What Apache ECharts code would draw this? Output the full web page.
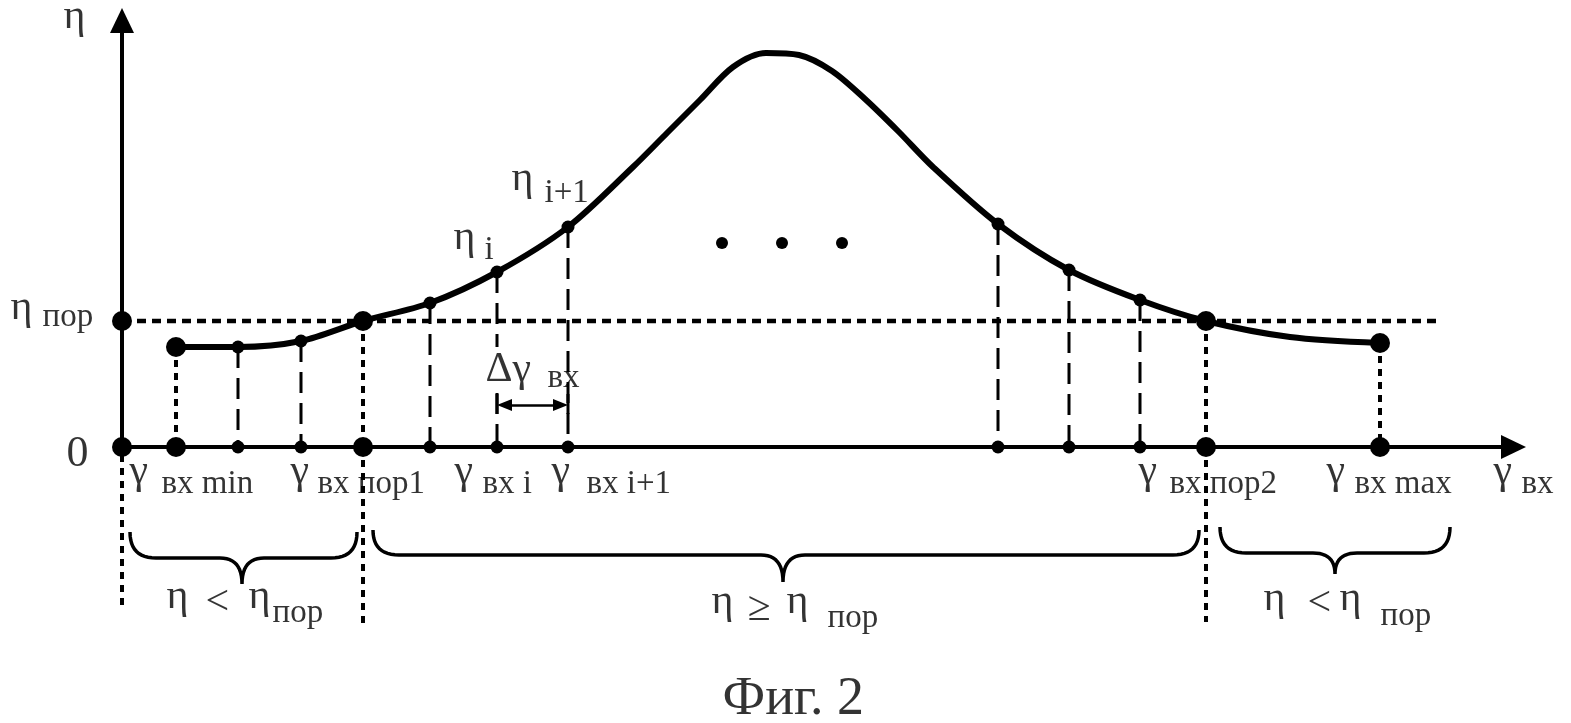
<!DOCTYPE html>
<html><head><meta charset="utf-8">
<script src="https://cdn.jsdelivr.net/npm/echarts@6/dist/echarts.min.js"></script>
<style>html,body{margin:0;padding:0;background:#fff}#c{width:1571px;height:723px}</style>
</head><body><div id="c"></div>
<script>
// ---- data (chart units: γвх along x, η along y) ----
const sampleGamma = [5.4, 11.6, 17.9, 24.1, 30.8, 37.5, 44.6, 87.6, 94.7, 101.8, 108.4, 125.8];
const sampleEta   = [10.0, 10.0, 10.6, 12.6, 14.4, 17.5, 22.0, 22.3, 17.7, 14.7, 12.6, 10.4];
const sampleKind  = ['big','small','small','big','small','small','small','small','small','small','big','big'];
const curveGamma  = [5.4, 11.6, 17.9, 24.1, 30.8, 37.5, 44.6, 51.1, 54.5, 57.8, 61.1, 64.4, 67.7, 71.0, 74.3, 77.6, 81.1, 87.6, 94.7, 101.8, 108.4, 116.8, 125.8];
const curveEta    = [10.0, 10.0, 10.6, 12.6, 14.4, 17.5, 22.0, 28.0, 31.4, 34.7, 38.0, 39.4, 39.2, 37.6, 34.8, 31.6, 28.0, 22.3, 17.7, 14.7, 12.6, 11.0, 10.4];
const etaThreshold = 12.6;
const thresholdEnd = 131.5;
const ellipsisGamma = [60.0, 66.0, 72.0];
const ellipsisEta = 20.4;
const deltaFrom = 37.5, deltaTo = 44.6, deltaEta = 4.2;
// gap in the drop line at γ = deltaFrom, left for the Δγ label: [η top, η bottom]
const deltaLabelGap = [10.0, 5.4];
// region boundaries below the axis: [γ, η bottom]
const boundaries = [[0, -16.3], [24.1, -18.0], [108.4, -17.5]];
// braces: [γ start, γ end, γ tip, η top, η mid, η bottom]
const braces = [
  [0.8, 23.5, 12.0, -8.5, -11.1, -13.7],
  [25.1, 107.7, 66.1, -8.3, -10.8, -13.5],
  [109.8, 132.8, 121.3, -8.0, -10.6, -12.7]
];
// texts: [text, γ, η]
const symbolTexts = [
  ['η', -5.8, 43.0], ['η', -11.1, 13.9],
  ['γ', 0.8, -2.5], ['γ', 16.9, -2.5], ['γ', 33.3, -2.5], ['γ', 43.0, -2.5],
  ['γ', 101.7, -2.5], ['γ', 120.5, -2.5], ['γ', 137.2, -2.5],
  ['η', 33.2, 20.9], ['η', 39.0, 26.8], ['Δγ', 36.4, 7.7],
  ['η', 4.5, -15.0], ['<', 8.4, -15.6], ['η', 12.7, -15.0],
  ['η', 59.0, -15.5], ['≥', 62.6, -16.2], ['η', 66.5, -15.5],
  ['η', 114.2, -15.2], ['<', 118.6, -15.7], ['η', 121.8, -15.2]
];
const subTexts = [
  ['пор', -7.9, 12.9],
  ['вх min', 4.0, -3.8], ['вх пор1', 19.6, -3.8], ['вх i', 36.1, -3.8], ['вх i+1', 46.5, -3.8],
  ['вх пор2', 104.8, -3.8], ['вх max', 123.3, -3.8], ['вх', 140.0, -3.8],
  ['i', 36.3, 19.6], ['i+1', 42.3, 25.3], ['вх', 42.6, 6.8],
  ['пор', 15.1, -16.7], ['пор', 70.6, -17.2], ['пор', 125.9, -17.0]
];
const zeroText = [['0', -5.5, -0.75]];
const figText = [['Фиг. 2', 60.1, -25.3]];

// ---- build ----
const FONT = '"Liberation Serif","Times New Roman",serif';
const bigPts = [], smallPts = [], axisBig = [[0, 0], [0, etaThreshold]], axisSmall = [];
sampleGamma.forEach((g, i) => {
  if (sampleKind[i] === 'big') { bigPts.push([g, sampleEta[i]]); axisBig.push([g, 0]); }
  else { smallPts.push([g, sampleEta[i]]); axisSmall.push([g, 0]); }
});
// guide segments: [x1,y1,x2,y2,kind] kind 0 = long dash, 1 = dotted, 2 = threshold dotted, 3 = solid tick
const guides = [];
sampleGamma.forEach((g, i) => {
  const kind = sampleKind[i] === 'big' ? 1 : 0;
  if (g === deltaFrom) {
    guides.push([g, sampleEta[i], g, deltaLabelGap[0], kind]);
    guides.push([g, deltaLabelGap[1], g, 0, kind]);
  } else {
    guides.push([g, sampleEta[i], g, 0, kind]);
  }
});
boundaries.forEach(b => {
  const idx = sampleGamma.indexOf(b[0]);
  const top = idx >= 0 ? 0 : -0.8;
  guides.push([b[0], top, b[0], b[1], 1]);
});
guides.push([0, etaThreshold, thresholdEnd, etaThreshold, 2]);
guides.push([deltaFrom, deltaEta + 1.1, deltaFrom, deltaEta - 0.9, 3]);
guides.push([deltaTo, deltaEta + 1.1, deltaTo, deltaEta - 0.9, 3]);

const guideStyles = [
  {lineWidth: 3, lineDash: [21, 10]},
  {lineWidth: 4, lineDash: [7, 6]},
  {lineWidth: 4.5, lineDash: [9, 6]},
  {lineWidth: 3, lineDash: null}
];

function textSeries(items, size) {
  return {
    type: 'scatter', symbol: 'circle', symbolSize: 1, silent: true, z: 10,
    itemStyle: {color: 'rgba(0,0,0,0)'},
    data: items.map(d => ({name: d[0], value: [d[1], d[2]]})),
    label: {show: true, formatter: p => p.name, position: [0, 0], align: 'left', verticalAlign: 'middle',
      fontFamily: FONT, fontSize: size, color: '#000'}
  };
}
function quad(p0, c, p1, n, out) {
  for (let i = 1; i <= n; i++) {
    const t = i / n, a = (1 - t) * (1 - t), b = 2 * (1 - t) * t, d = t * t;
    out.push([a * p0[0] + b * c[0] + d * p1[0], a * p0[1] + b * c[1] + d * p1[1]]);
  }
}
const markerStyle = {color: '#000', opacity: 1};

const chart = echarts.init(document.getElementById('c'), null, {renderer: 'canvas'});
chart.setOption({
  backgroundColor: '#fff',
  animation: false,
  grid: {left: 0, right: 0, top: 0, bottom: 0},
  xAxis: {type: 'value', min: -12.2, max: 144.9, show: false},
  yAxis: {type: 'value', min: -27.6, max: 44.7, show: false},
  series: [
    {
      type: 'custom', z: 1, silent: true,
      data: guides,
      renderItem: (params, api) => {
        const p1 = api.coord([api.value(0), api.value(1)]);
        const p2 = api.coord([api.value(2), api.value(3)]);
        const s = guideStyles[api.value(4)];
        return {type: 'line', shape: {x1: p1[0], y1: p1[1], x2: p2[0], y2: p2[1]},
          style: {stroke: '#000', lineWidth: s.lineWidth, lineDash: s.lineDash, fill: null}};
      }
    },
    {
      type: 'custom', z: 1, silent: true,
      data: braces,
      renderItem: (params, api) => {
        const a = api.coord([api.value(0), api.value(3)]);
        const b = api.coord([api.value(1), api.value(4)]);
        const t = api.coord([api.value(2), api.value(5)]);
        const X0 = a[0], YT = a[1], X1 = b[0], YM = b[1], XT = t[0], YB = t[1];
        const r = 26, r2 = 22, pts = [[X0, YT]];
        quad([X0, YT], [X0, YM], [X0 + r, YM], 12, pts);
        pts.push([XT - r2, YM]);
        quad([XT - r2, YM], [XT, YM], [XT, YB], 12, pts);
        quad([XT, YB], [XT, YM], [XT + r2, YM], 12, pts);
        pts.push([X1 - r, YM]);
        quad([X1 - r, YM], [X1, YM], [X1, YT], 12, pts);
        return {type: 'polyline', shape: {points: pts}, style: {stroke: '#000', lineWidth: 3.5, fill: null}};
      }
    },
    {
      type: 'line', z: 2, silent: true, showSymbol: false, smooth: 0.3,
      data: curveGamma.map((g, i) => [g, curveEta[i]]),
      lineStyle: {color: '#000', width: 6},
      markLine: {
        silent: true, animation: false, label: {show: false}, emphasis: {disabled: true},
        symbol: ['none', 'triangle'], symbolSize: [24, 25],
        lineStyle: {color: '#000', type: 'solid', width: 4},
        data: [
          [{coord: [0, 0]}, {coord: [0, 42.65]}],
          [{coord: [0, 0]}, {coord: [139.15, 0]}],
          [{coord: [deltaFrom + 0.75, deltaEta], symbol: 'triangle', symbolSize: [12, 15], lineStyle: {width: 2.5}},
           {coord: [deltaTo - 0.75, deltaEta], symbol: 'triangle', symbolSize: [12, 15]}]
        ]
      }
    },
    {type: 'scatter', z: 3, silent: true, symbol: 'circle', symbolSize: 20, itemStyle: markerStyle, data: bigPts.concat(axisBig)},
    {type: 'scatter', z: 3, silent: true, symbol: 'circle', symbolSize: 13, itemStyle: markerStyle, data: smallPts.concat(axisSmall)},
    {type: 'scatter', z: 3, silent: true, symbol: 'circle', symbolSize: 12, itemStyle: markerStyle,
      data: ellipsisGamma.map(g => [g, ellipsisEta])},
    textSeries(symbolTexts, 42),
    textSeries(subTexts, 33),
    textSeries(zeroText, 44),
    textSeries(figText, 54)
  ]
});
</script></body></html>
